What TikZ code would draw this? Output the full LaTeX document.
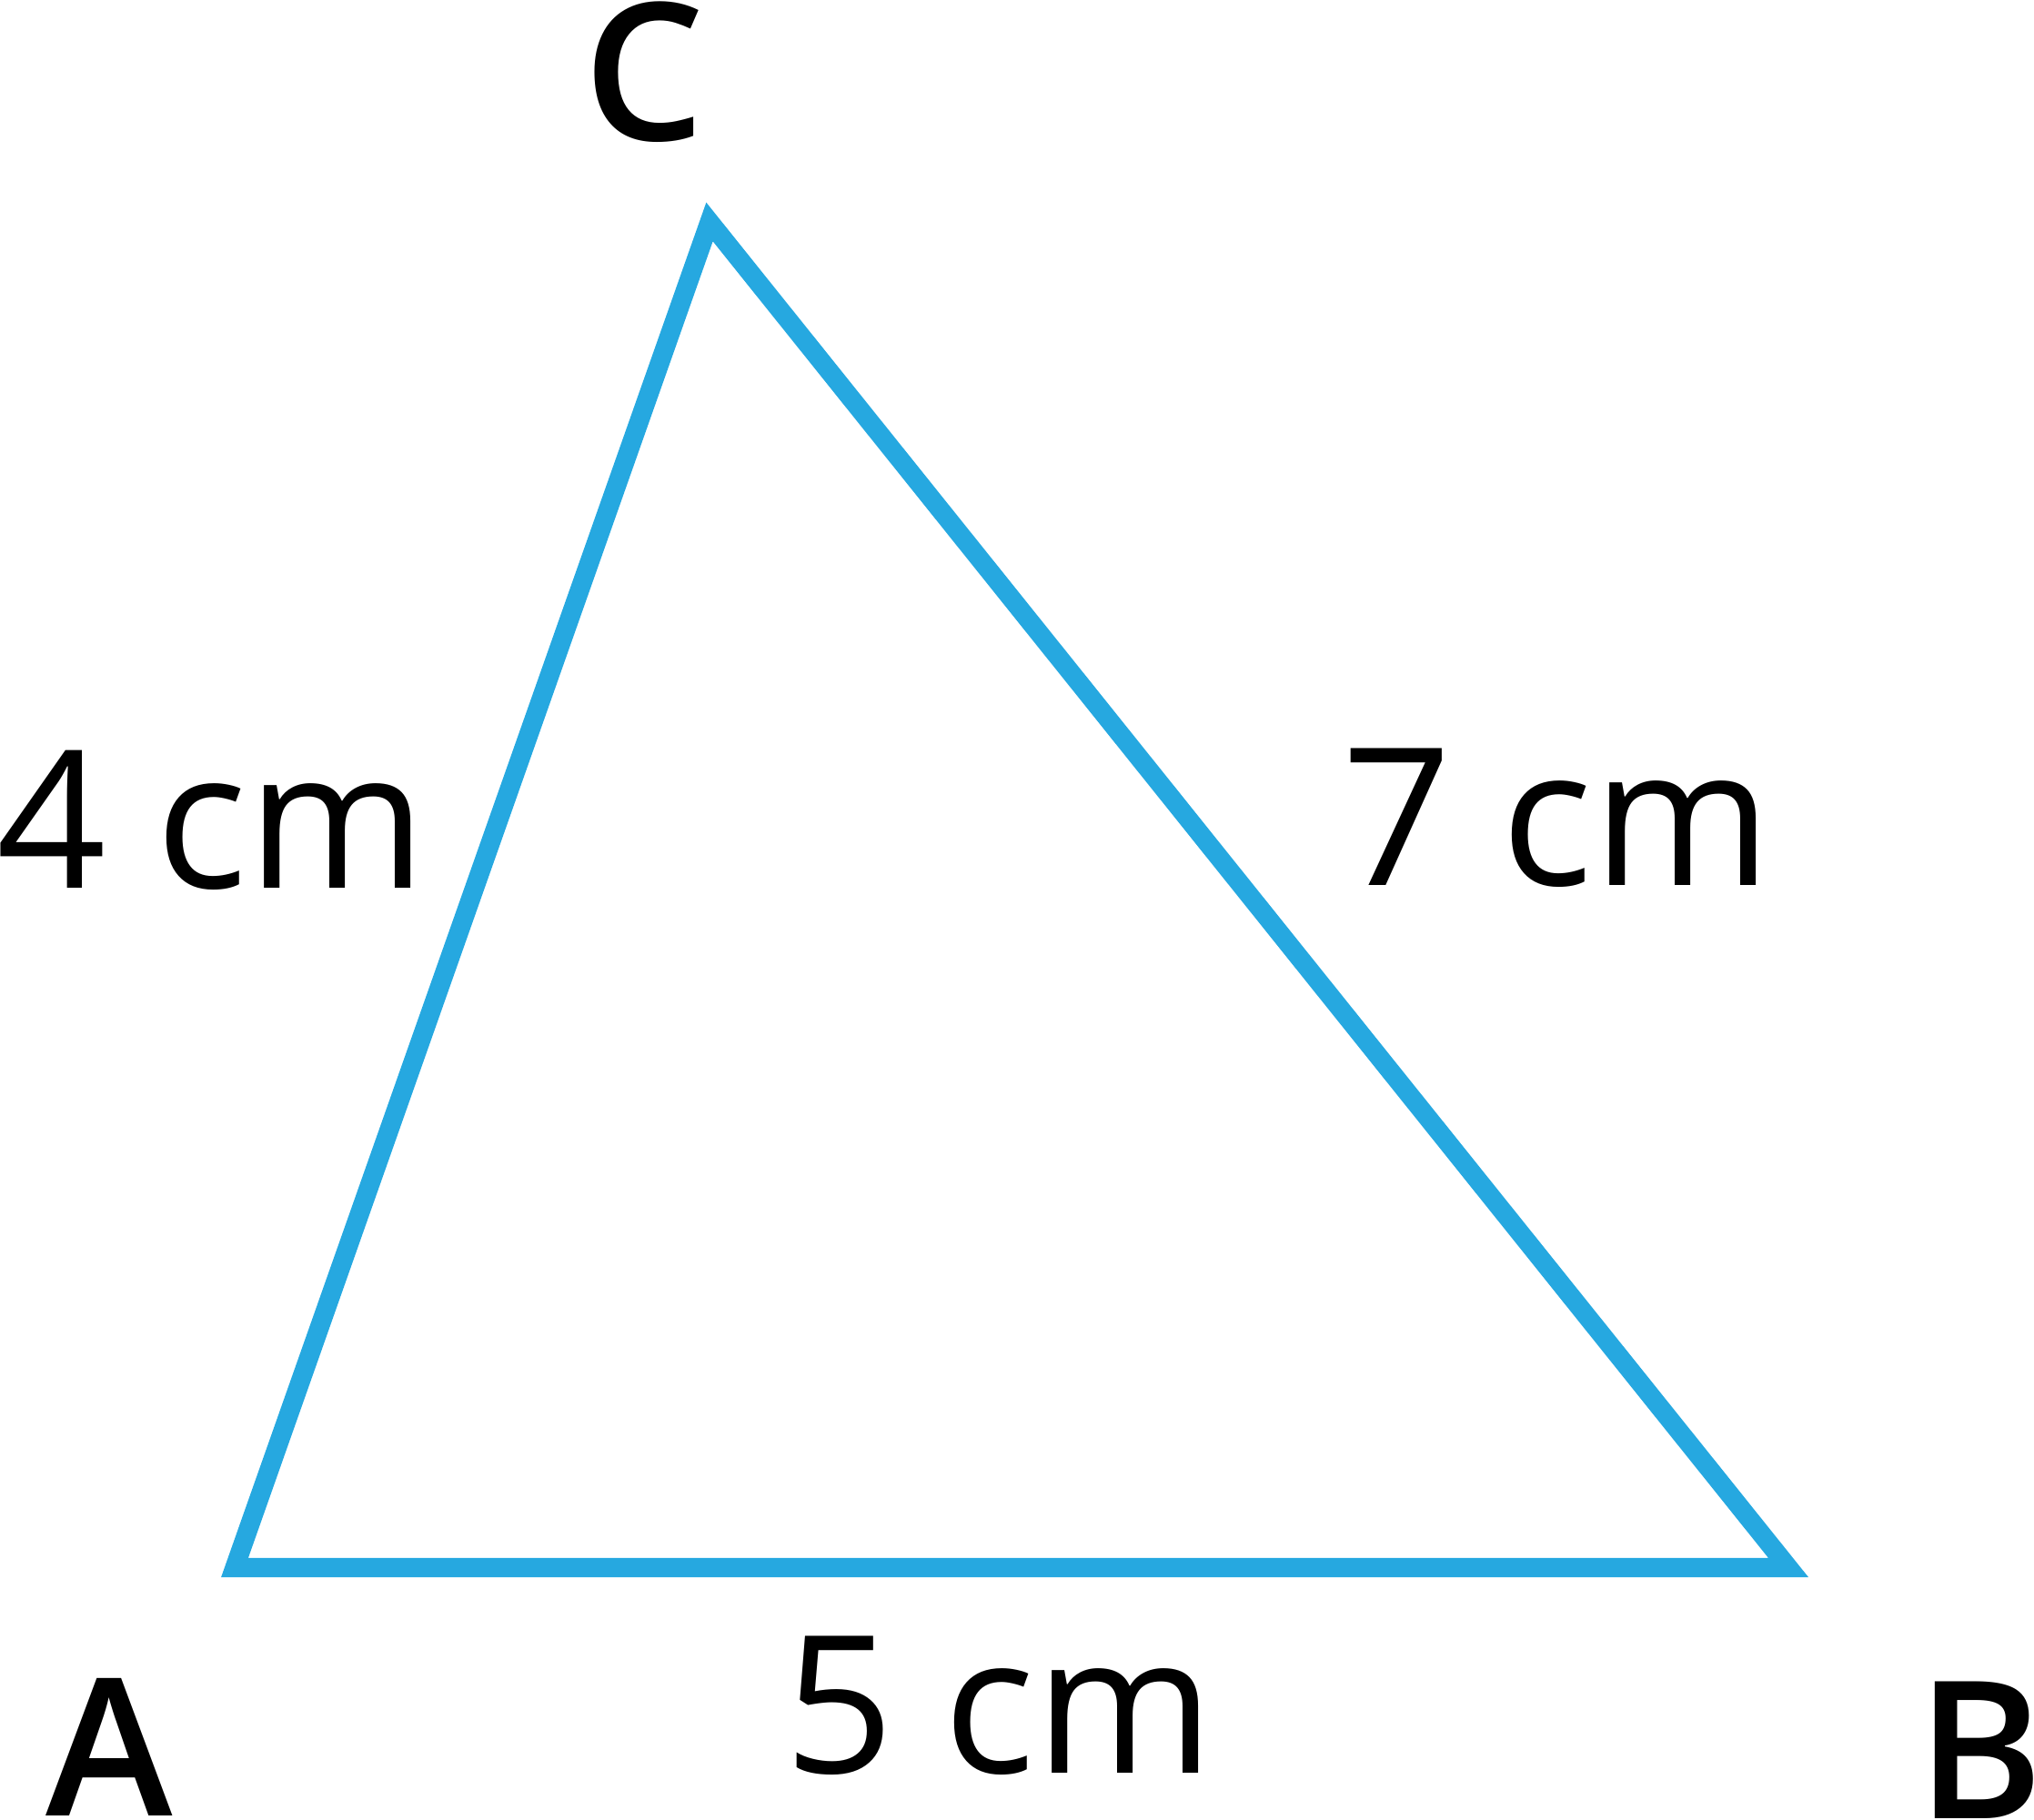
\documentclass[tikz,border=0pt]{standalone}
\usepackage{fontspec}
\setmainfont{Open Sans}
\IfFontExistsTF{Open Sans Semibold}
  {\newfontface\vertexfont{Open Sans Semibold}}
  {\newfontface\vertexfont{Open Sans}[FakeBold=1.6]}
\definecolor{sideblue}{RGB}{38,168,224}
\tikzset{side/.style = {draw=sideblue, line width=6pt, line join=miter}}
\tikzset{vertexlabel/.style = {inner sep=0pt, anchor=base, font=\fontsize{60}{72}\vertexfont}}
\tikzset{lengthlabel/.style = {inner sep=0pt, anchor=base west, font=\fontsize{60}{72}\selectfont}}

\begin{document}
\begin{tikzpicture}
	\useasboundingbox (0,0) rectangle (22.36,20.01);
	\coordinate (A) at (2.58,2.775);
	\coordinate (B) at (19.66,2.775);
	\coordinate (C) at (7.80,17.57);
	\draw [side] (A) -- (B) -- (C) -- cycle;
	\node [vertexlabel] (labA) at (1.20,0.04) {A};
	\node [vertexlabel] (labB) at (21.77,0.01) {B};
	\node [vertexlabel] (labC) at (7.08,18.46) {C};
	\node [lengthlabel] (lenAC) at (-0.04,10.24) {4 cm};
	\node [lengthlabel] (lenBC) at (14.75,10.27) {7 cm};
	\node [lengthlabel] (lenAB) at (8.62,0.51) {5 cm};
\end{tikzpicture}
\end{document}
